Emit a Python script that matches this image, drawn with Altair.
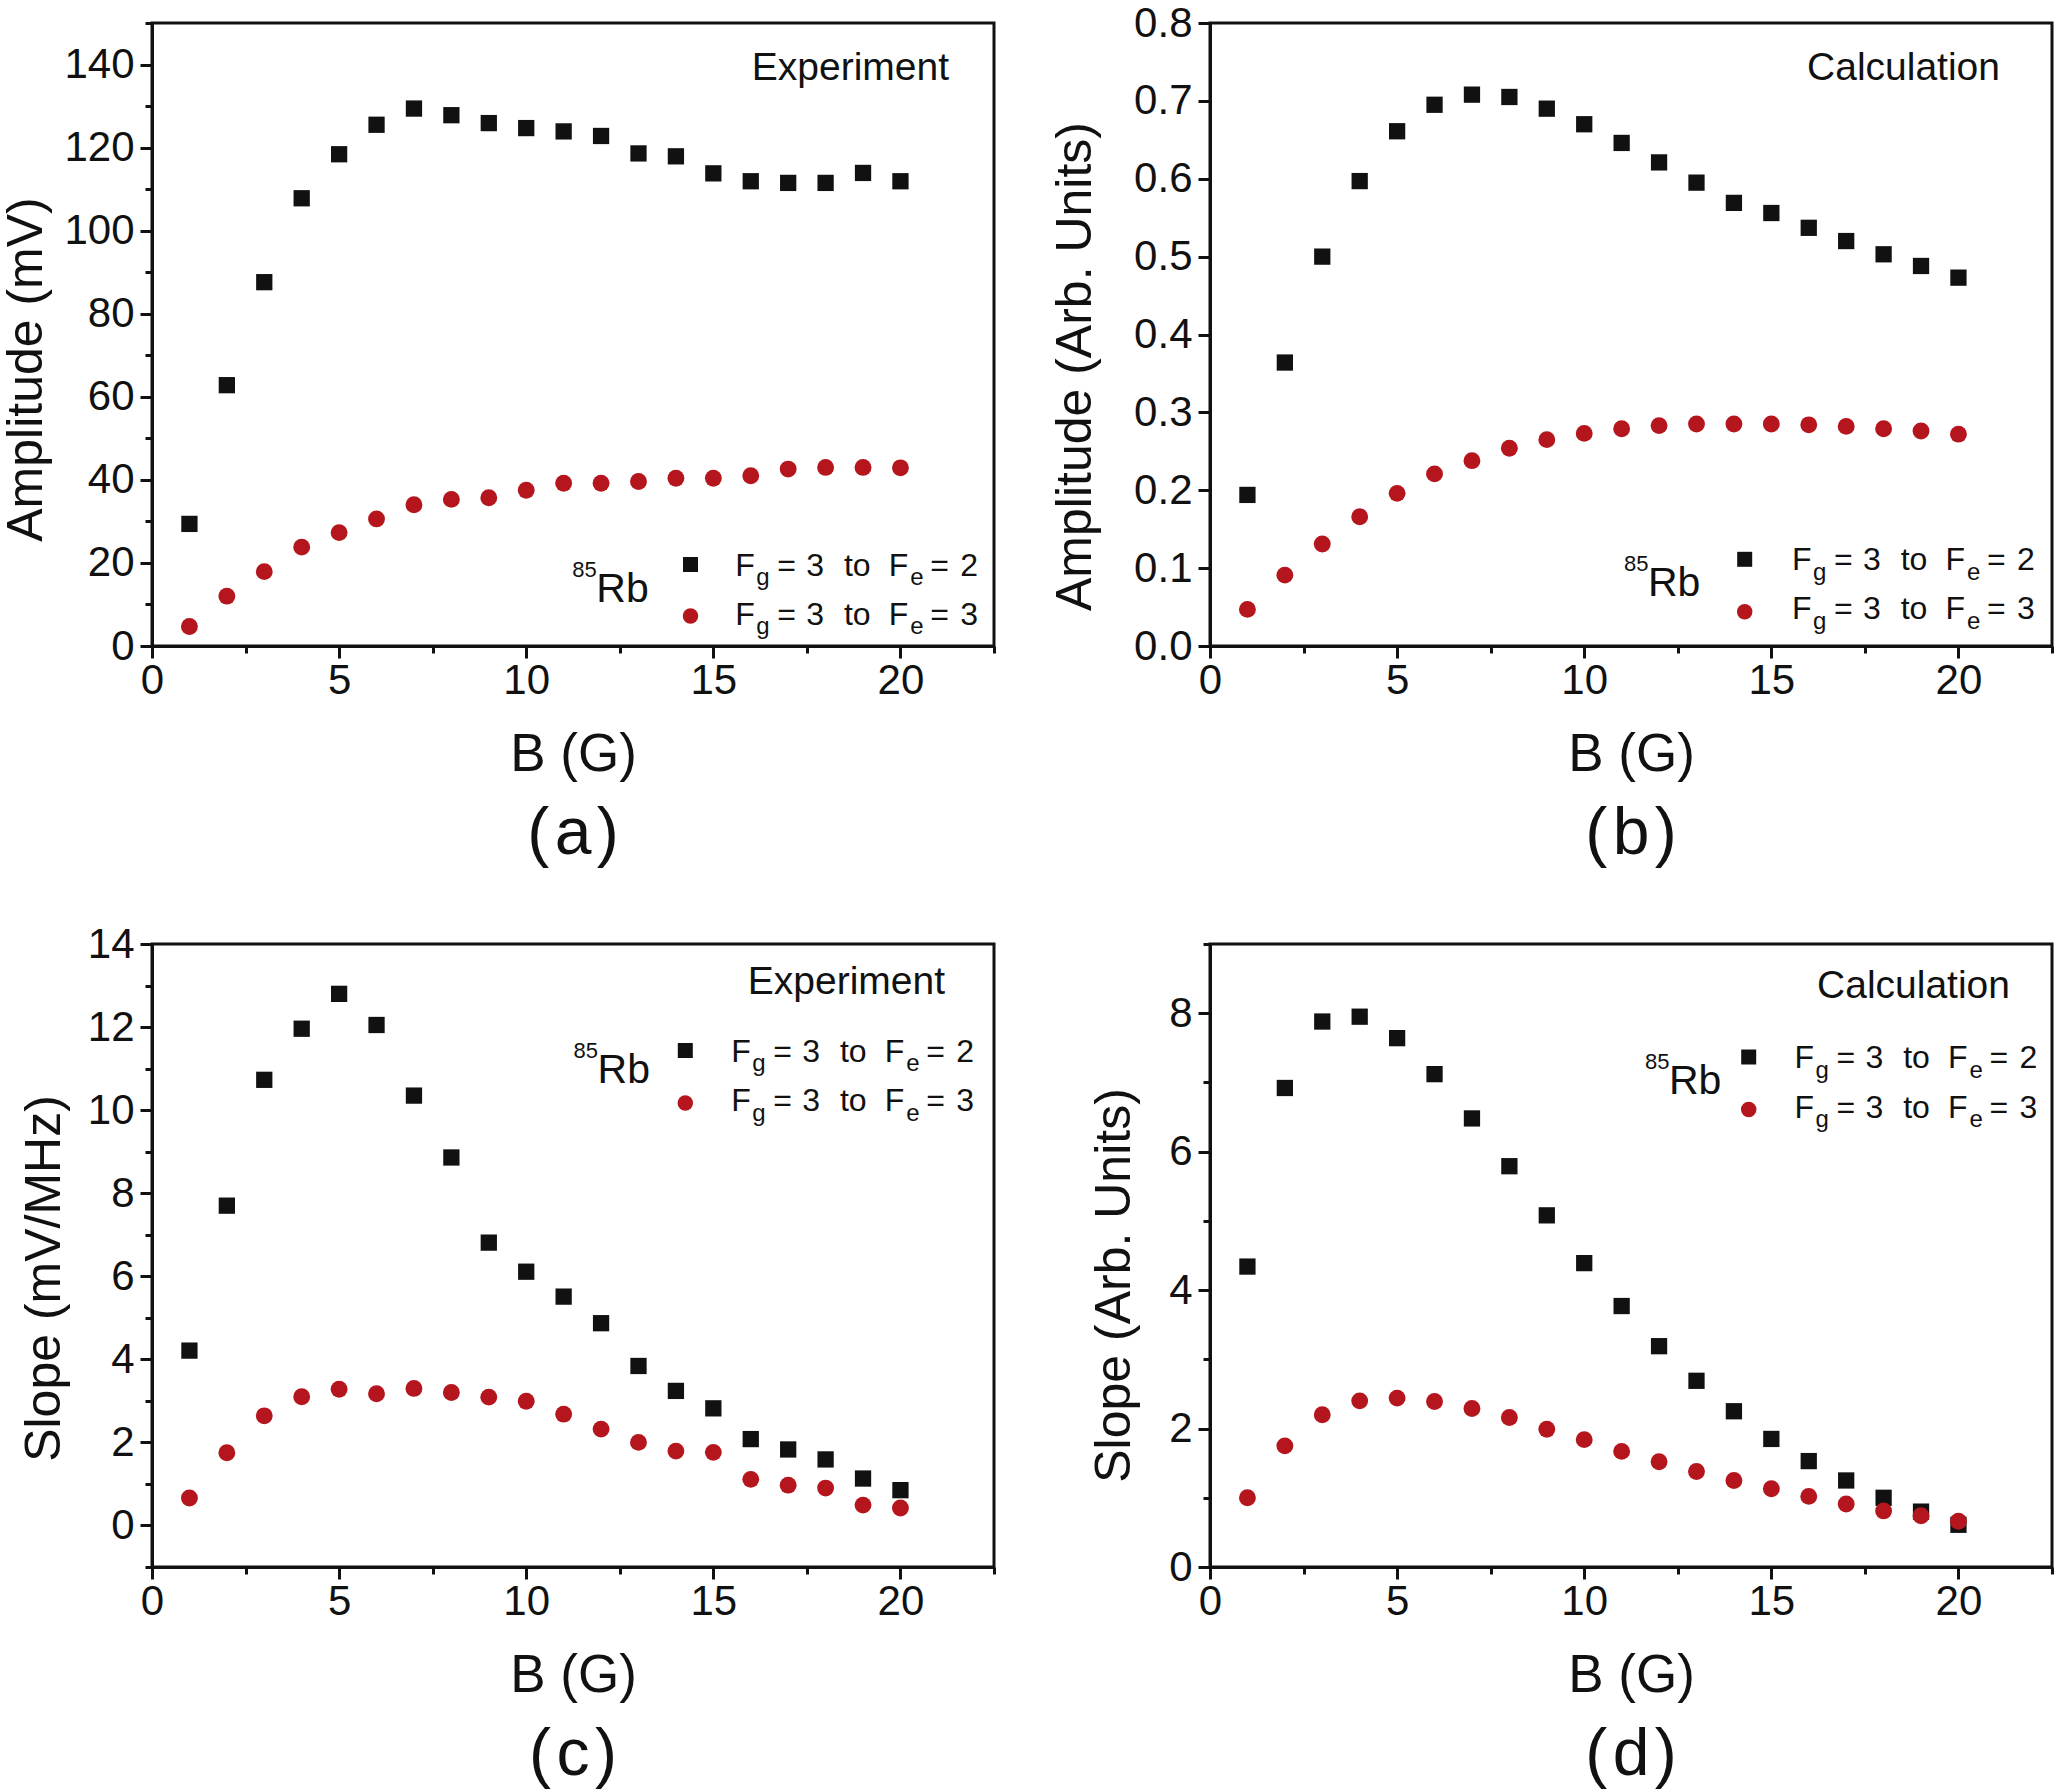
import altair as alt
import pandas as pd

# ---------------- data ----------------
B = list(range(1, 21))

amp_exp_fe2 = [29.4, 62.8, 87.6, 107.8, 118.4, 125.5, 129.4, 127.8, 125.9, 124.7,
               123.9, 122.8, 118.6, 117.9, 113.8, 111.9, 111.5, 111.5, 113.9, 111.9]
amp_exp_fe3 = [4.7, 12.0, 17.9, 23.8, 27.3, 30.6, 34.0, 35.3, 35.7, 37.5,
               39.2, 39.2, 39.6, 40.4, 40.4, 41.0, 42.6, 43.0, 43.0, 42.9]
amp_calc_fe2 = [0.194, 0.364, 0.500, 0.597, 0.661, 0.695, 0.708, 0.705, 0.690, 0.670,
                0.646, 0.621, 0.595, 0.569, 0.556, 0.537, 0.520, 0.503, 0.488, 0.473]
amp_calc_fe3 = [0.047, 0.091, 0.131, 0.166, 0.196, 0.221, 0.238, 0.254, 0.265, 0.273,
                0.279, 0.283, 0.285, 0.285, 0.285, 0.284, 0.282, 0.279, 0.276, 0.272]
slope_exp_fe2 = [4.21, 7.70, 10.73, 11.96, 12.80, 12.05, 10.35, 8.86, 6.81, 6.11,
                 5.51, 4.87, 3.84, 3.24, 2.82, 2.08, 1.83, 1.59, 1.13, 0.85]
slope_exp_fe3 = [0.66, 1.75, 2.64, 3.10, 3.28, 3.17, 3.30, 3.20, 3.09, 2.99,
                 2.68, 2.32, 2.00, 1.79, 1.76, 1.11, 0.97, 0.90, 0.49, 0.42]
slope_calc_fe2 = [4.34, 6.92, 7.88, 7.95, 7.64, 7.12, 6.48, 5.79, 5.08, 4.39,
                  3.77, 3.19, 2.69, 2.25, 1.85, 1.53, 1.25, 1.00, 0.80, 0.61]
slope_calc_fe3 = [1.00, 1.75, 2.20, 2.40, 2.44, 2.39, 2.29, 2.16, 1.99, 1.84,
                  1.67, 1.52, 1.38, 1.25, 1.13, 1.02, 0.91, 0.81, 0.74, 0.66]

x_ticks = [i * 2.5 for i in range(10)]
y_ticks_a = list(range(0, 151, 10))
y_ticks_b = [round(i * 0.05, 2) for i in range(17)]
y_ticks_c = list(range(-1, 15))
y_ticks_d = list(range(0, 10))

# ---------------- styling ----------------
FONT = "Liberation Sans, Arial, Helvetica, sans-serif"
INK = "#111111"
RED = "#b5161e"
W, H = 842, 623
LABEL_FS = 42
TITLE_FS = 50


def x_axis():
    return alt.Axis(
        values=x_ticks,
        labelExpr="datum.value % 5 == 0 ? format(datum.value, 'd') : ''",
        tickSize={"condition": {"test": "datum.value % 5 == 0", "value": 12}, "value": 7},
        title="B (G)", titleY=124.7, titleBaseline="alphabetic", titleFontSize=53,
        labelPadding=2, labelFlush=False, labelOverlap=False, labelBound=False,
        grid=False,
    )


def y_axis(title, values, major_test, fmt, title_x, title_y):
    return alt.Axis(
        values=values,
        labelExpr=f"({major_test}) ? format(datum.value, '{fmt}') : ''",
        tickSize={"condition": {"test": major_test, "value": 12}, "value": 7},
        title=title, titleX=title_x, titleY=title_y, titleBaseline="bottom",
        titleFontSize=TITLE_FS,
        labelPadding=6, labelFlush=False, labelOverlap=False, labelBound=False,
        grid=False,
    )


def text_layer(items, align="left"):
    df = pd.DataFrame(items, columns=["t", "px", "py", "fs"])
    return alt.Chart(df).mark_text(
        align=align, baseline="alphabetic", font=FONT, color=INK
    ).encode(
        x=alt.X("px:Q", scale=None),
        y=alt.Y("py:Q", scale=None),
        text="t:N",
        size=alt.Size("fs:Q", scale=None, legend=None),
    )


def legend_items(x0, r1, r2, rb_x, rb_y, last1="2", last2="3"):
    items = [("85", rb_x - 24, rb_y - 25, 22), ("Rb", rb_x, rb_y, 41)]
    for base, last in ((r1, last1), (r2, last2)):
        sub = base + 9.5
        items += [
            ("F", x0, base, 32), ("g", x0 + 21, sub, 24), ("=", x0 + 42, base, 32),
            ("3", x0 + 71, base, 32), ("to", x0 + 108.6, base, 32),
            ("F", x0 + 153.4, base, 32), ("e", x0 + 175, sub, 24),
            ("=", x0 + 195, base, 32), (last, x0 + 225, base, 32),
        ]
    return items


def panel(fe2, fe3, ydomain, yaxis, tag, tag_xr, tag_y, letter, leg):
    df = pd.DataFrame({"B": B, "fe2": fe2, "fe3": fe3})
    xs = alt.Scale(domain=[0, 22.5], nice=False, zero=False)
    ys = alt.Scale(domain=ydomain, nice=False, zero=False)
    base = alt.Chart(df)
    sq = base.mark_point(shape="square", filled=True, size=265, color=INK, opacity=1).encode(
        x=alt.X("B:Q", scale=xs, axis=x_axis()),
        y=alt.Y("fe2:Q", scale=ys, axis=yaxis),
    )
    ci = base.mark_point(shape="circle", filled=True, size=285, color=RED, opacity=1).encode(
        x=alt.X("B:Q", scale=xs),
        y=alt.Y("fe3:Q", scale=ys),
    )
    x0, r1, r2, rb_x, rb_y, sx, sy1, sy2 = leg
    one = pd.DataFrame({"k": [0]})
    sym_sq = alt.Chart(one).mark_point(shape="square", filled=True, size=225, color=INK, opacity=1).encode(
        x=alt.value(sx), y=alt.value(sy1))
    sym_ci = alt.Chart(one).mark_point(shape="circle", filled=True, size=240, color=RED, opacity=1).encode(
        x=alt.value(sx), y=alt.value(sy2))
    txt = text_layer(legend_items(x0, r1, r2, rb_x, rb_y))
    ttl = text_layer([(tag, tag_xr, tag_y, 39)], align="right")
    lab = text_layer([(letter, W / 2, 831, 66)], align="center")
    return alt.layer(sq, ci, sym_sq, sym_ci, txt, ttl, lab).properties(width=W, height=H)


pa = panel(amp_exp_fe2, amp_exp_fe3, [0, 150],
           y_axis("Amplitude (mV)", y_ticks_a, "datum.value % 20 == 0", "d", -100.5, 346),
           "Experiment", 797, 57, "(\u200aa\u200a)",
           (583.3, 552.6, 601.5, 444.3, 579.3, 538.5, 541.5, 593.1))
pb = panel(amp_calc_fe2, amp_calc_fe3, [0, 0.8],
           y_axis("Amplitude (Arb. Units)", y_ticks_b,
                  "abs(datum.value * 10 - round(datum.value * 10)) < 0.000001", ".1f", -110, 343),
           "Calculation", 790, 57, "(\u200ab\u200a)",
           (582.1, 547.4, 596.4, 437.9, 573.3, 534.7, 536.3, 588.7))
pc = panel(slope_exp_fe2, slope_exp_fe3, [-1, 14],
           y_axis("Slope (mV/MHz)", y_ticks_c, "datum.value % 2 == 0", "d", -83, 334),
           "Experiment", 793, 50, "(\u200ac\u200a)",
           (579.3, 117.6, 167.0, 445.6, 139, 533.3, 106.5, 159))
pd_ = panel(slope_calc_fe2, slope_calc_fe3, [0, 9],
            y_axis("Slope (Arb. Units)", y_ticks_d, "datum.value % 2 == 0", "d", -71, 341),
            "Calculation", 800, 54, "(\u200ad\u200a)",
            (584.6, 124.1, 173.9, 459, 150, 538.7, 113, 165.5))

chart = alt.concat(pa, pb, pc, pd_, columns=2).properties(
    spacing={"row": 298, "column": 216},
    bounds="flush",
    padding={"left": 0, "top": 0, "right": 0, "bottom": 0},
    background="white",
).configure_view(
    stroke=INK, strokeWidth=3
).configure_axis(
    domainColor=INK, domainWidth=3, tickColor=INK, tickWidth=3,
    labelFont=FONT, labelFontSize=LABEL_FS, labelColor=INK,
    titleFont=FONT, titleFontWeight="normal", titleColor=INK,
)

chart.save("out.html", embed_options={"renderer": "svg", "actions": False})
